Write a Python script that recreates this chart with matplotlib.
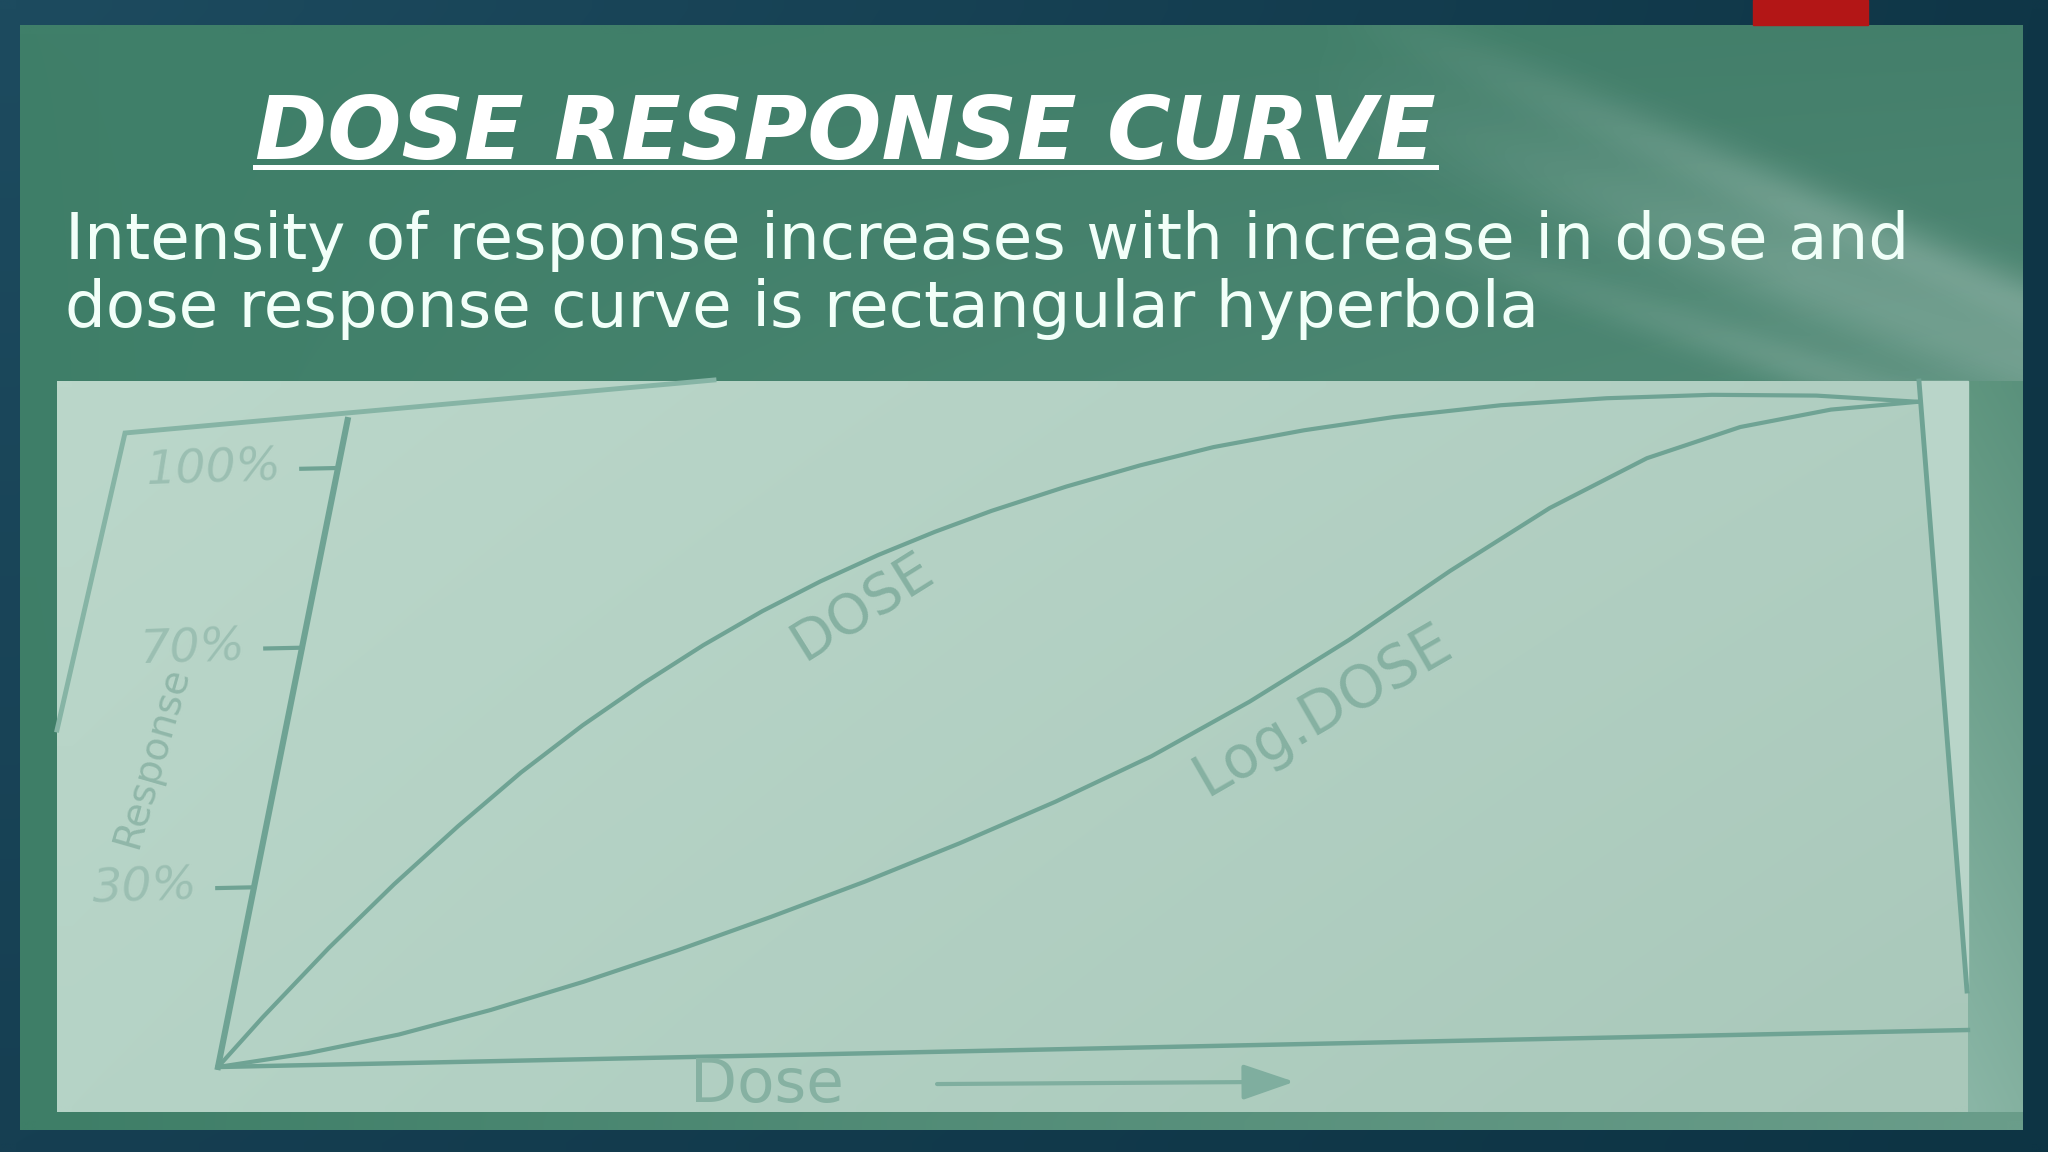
import numpy as np
import matplotlib.pyplot as plt
from matplotlib.transforms import Affine2D
from matplotlib.patches import Rectangle, Polygon, FancyArrowPatch
from matplotlib.colors import to_rgb

W, H = 2048, 1152

# Curves: dose units along the x axis (0-100), response in %
dose_curve_x = [0, 2, 5, 8, 11, 14, 17, 20, 23, 26, 29, 32, 35, 38, 42, 46, 50,
                55, 60, 66, 72, 78, 84, 89.9]
dose_curve_y = [0, 8.2, 19.6, 30.0, 39.5, 48.3, 56.0, 62.8, 69.0, 74.5, 79.3, 83.5,
                87.2, 90.5, 94.3, 97.6, 100.4, 102.9, 104.8, 106.4, 107.2, 107.4,
                106.9, 105.5]

log_curve_x = [0, 5, 10, 15, 20, 25, 30, 35, 40, 45, 50, 55, 60, 65, 70, 75, 80, 85, 89.9]
log_curve_y = [0, 2.0, 4.8, 8.6, 13.0, 17.9, 23.2, 28.8, 34.9, 41.5, 48.8, 57.6, 67.6,
               78.8, 89.0, 97.0, 101.9, 104.5, 105.5]

tick_values = [30, 70, 100]
tick_labels = ['30%', '70%', '100%']

# slide text
title_text = 'DOSE RESPONSE CURVE'
body_lines = ['Intensity of response increases with increase in dose and',
              'dose response curve is rectangular hyperbola']

# photographed sheet edges (pixel positions on the slide)
back_sheet_x = [57, 125, 714]
back_sheet_y = [730, 433, 380]
sheet_edge_x = [1919, 1967]
sheet_edge_y = [381, 991]

LINE = '#6fa394'
LABEL = '#86b1a2'
PHOTO_FONT = 'DejaVu Sans'

fig = plt.figure(figsize=(20.48, 11.52), dpi=100)
ax = fig.add_axes([0, 0, 1, 1])


def gradient(x0, y0, x1, y1, tl, tr, bl, br, z, n=64):
    tl, tr, bl, br = [np.array(to_rgb(c)) for c in (tl, tr, bl, br)]
    u = np.linspace(0, 1, n)[None, :, None]
    v = np.linspace(0, 1, n)[:, None, None]
    img = (1 - v) * ((1 - u) * tl + u * tr) + v * ((1 - u) * bl + u * br)
    ax.imshow(img, extent=(x0, x1, y1, y0), interpolation='bilinear',
              aspect='auto', zorder=z)


# slide backgrounds
gradient(0, 0, W, H, '#1d4b5f', '#0f3647', '#163f52', '#0d3444', 0)
gradient(20, 25, 2023, 1130, '#3f7f69', '#447f6b', '#3e7e67', '#6a9d8a', 1)
ax.add_patch(Rectangle((1753, 0), 115, 25, color='#b31616', zorder=1))

# soft light streaks in the upper right of the panel
gx = np.linspace(20, 2023, 400)
gy = np.linspace(25, 1130, 220)
X, Y = np.meshgrid(gx, gy)
fade = np.clip((X - 1300) / 500, 0, 1)
alpha = np.zeros_like(X)
for (xa, ya, xb, yb, w, a) in [(1450, 50, 2023, 300, 30, 0.17),
                               (1550, 170, 2023, 360, 55, 0.20),
                               (1700, 330, 2023, 440, 25, 0.14)]:
    yc = ya + (X - xa) * (yb - ya) / (xb - xa)
    alpha += a * np.exp(-((Y - yc) / w) ** 2)
alpha = np.clip(alpha * fade, 0, 0.45)
streak = np.ones(X.shape + (4,))
streak[..., 3] = alpha
ax.imshow(streak, extent=(20, 2023, 1130, 25), interpolation='bilinear',
          aspect='auto', zorder=2)

# right strip beside the photo
gradient(1968, 381, 2023, 1112, '#5f967f', '#5a917c', '#8ab6a6', '#84b1a0', 2.5)

# photo of the printed figure
gradient(57, 381, 1968, 1112, '#bbd7ca', '#b0cec1', '#b5d3c6', '#a9c8ba', 3)
ax.add_patch(Polygon([(1919, 381), (1968, 381), (1968, 991)], closed=True,
                     color='#b9d5c9', zorder=3.1))
clip = Rectangle((57, 381), 1911, 731, transform=ax.transData)

ax.plot(back_sheet_x, back_sheet_y, color='#86b4a5', lw=3.5, zorder=4,
        solid_joinstyle='miter', clip_path=clip)
ax.plot(sheet_edge_x, sheet_edge_y, color=LINE, lw=3.5, zorder=4, clip_path=clip)

# skewed chart frame of the photographed figure
chart = Affine2D().from_values(17.5, -0.37, 1.20, -5.99, 218, 1067) + ax.transData

ax.plot([0, 100], [0, 0], color=LINE, lw=3.2, transform=chart, zorder=5, clip_path=clip)
ax.plot([0, 0], [0, 108], color=LINE, lw=4.4, transform=chart, zorder=5, clip_path=clip)
for v, lab in zip(tick_values, tick_labels):
    ax.plot([-2.1, 0], [v, v], color=LINE, lw=3.0, transform=chart, zorder=5)
    ax.text(-3.2, v, lab, transform=chart, ha='right', va='center', rotation=2,
            fontsize=34, fontstyle='oblique', family=PHOTO_FONT,
            color='#9bbfb2', zorder=6)

ax.plot(dose_curve_x, dose_curve_y, color=LINE, lw=3.0, transform=chart,
        zorder=5, clip_path=clip, solid_joinstyle='round')
ax.plot(log_curve_x, log_curve_y, color=LINE, lw=3.0, transform=chart,
        zorder=5, clip_path=clip, solid_joinstyle='round')

ax.text(31.7, 74.8, 'DOSE', transform=chart, rotation=32, ha='center', va='center',
        rotation_mode='anchor', fontsize=40, family=PHOTO_FONT, color=LABEL, zorder=6)
ax.text(59.3, 55.8, 'Log.DOSE', transform=chart, rotation=30, ha='center', va='center',
        rotation_mode='anchor', fontsize=42, family=PHOTO_FONT, color=LABEL, zorder=6)
ax.text(-7.35, 52.2, 'Response', transform=chart, rotation=74, ha='center', va='center',
        rotation_mode='anchor', fontsize=28, family=PHOTO_FONT, color='#90b7a9', zorder=6)
ax.text(31.7, -5.0, 'Dose', transform=chart, ha='center', va='center',
        fontsize=44, family=PHOTO_FONT, color=LABEL, zorder=6)
ax.add_patch(FancyArrowPatch((41.3, -5.4), (62.1, -6.3), transform=chart,
                             arrowstyle='-|>,head_length=3.2,head_width=1.1',
                             mutation_scale=10, color='#7fae9f', lw=3, zorder=6))

# slide title and text
title = ax.text(255, 159, title_text, family='DejaVu Sans', fontweight='bold',
                fontstyle='oblique', color='white', ha='left', va='baseline',
                fontsize=60, zorder=7)
line1 = ax.text(65, 259, body_lines[0], family='DejaVu Sans', color='#f2fff9',
                ha='left', va='baseline', fontsize=44, zorder=7)
line2 = ax.text(65, 327, body_lines[1], family='DejaVu Sans', color='#f2fff9',
                ha='left', va='baseline', fontsize=44, zorder=7)

fig.canvas.draw()
renderer = fig.canvas.get_renderer()
title.set_fontsize(title.get_fontsize() * 1182 / title.get_window_extent(renderer).width)
scale = 1842 / line1.get_window_extent(renderer).width
line1.set_fontsize(line1.get_fontsize() * scale)
line2.set_fontsize(line2.get_fontsize() * scale)
fig.canvas.draw()
bb = title.get_window_extent(renderer).transformed(ax.transData.inverted())
ax.plot([min(bb.x0, bb.x1), max(bb.x0, bb.x1)], [167, 167], color='white', lw=3.6, zorder=7)

ax.set_xlim(0, W)
ax.set_ylim(H, 0)
ax.axis('off')
fig.savefig('out.png', dpi=100)
